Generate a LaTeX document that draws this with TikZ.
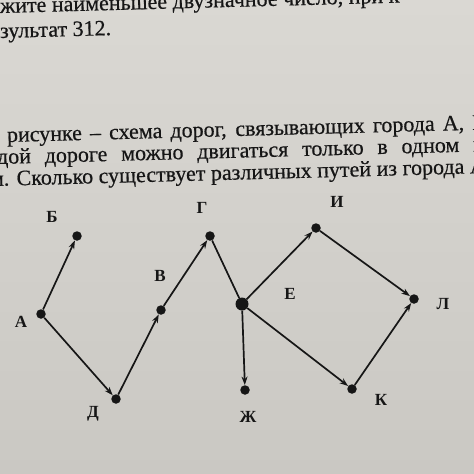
\documentclass[tikz,border=0pt]{standalone}
\usepackage{fontspec}
\setmainfont{Liberation Serif}
\newfontfamily\printfont[FakeBold=0.5]{Liberation Serif}
\usetikzlibrary{arrows.meta}

\definecolor{paper}{RGB}{218,216,211}
\definecolor{paperdark}{RGB}{202,200,195}
\definecolor{ink}{RGB}{22,22,22}

\tikzset{
	town/.style={circle, fill=ink, inner sep=0pt, minimum size=9.5pt},
	road/.style={draw=ink, line width=1.7pt, -{Stealth[length=8.5pt,width=6pt]}},
	lbl/.style={font=\fontsize{17}{17}\selectfont\bfseries, text=ink, inner sep=0pt},
	txt/.style={anchor=base west, inner sep=0pt, rotate=1.5, font=\printfont\fontsize{22}{24}\selectfont, text=ink}
}

\begin{document}
\begin{tikzpicture}[x=1pt, y=-1pt]
			\useasboundingbox (0, 0) rectangle (474, 474);
			\clip (0, 0) rectangle (474, 474);
			\shade [top color=paper, bottom color=paperdark] (0, 0) rectangle (474, 474);
			% page text
			\node[txt] (t1) at (0, 13) {жите наименьшее двузначное число, при к};
			\node[txt] (t2) at (0, 38) {зультат 312.};
			\node[txt] (t3) at (7, 142) {\makebox[478pt][s]{рисунке – схема дорог, связывающих города А, Б}};
			\node[txt] (t4) at (-3, 164) {\makebox[488pt][s]{дой дороге можно двигаться только в одном н}};
			\node[txt] (t5) at (-8, 186) {и. Сколько существует различных путей из города А};
			% towns
			\node[town] (a) at (41, 314) {};
			\node[town] (b) at (77, 236) {};
			\node[town] (d) at (116, 399) {};
			\node[town] (v) at (161, 310) {};
			\node[town] (g) at (210, 236) {};
			\node[town, minimum size=13pt] (e) at (242, 304) {};
			\node[town] (zh) at (245, 390) {};
			\node[town] (i) at (316, 228) {};
			\node[town] (l) at (414, 299) {};
			\node[town] (k) at (352, 389) {};
			% names
			\node[lbl] (la) at (21, 322) {А};
			\node[lbl] (lb) at (52, 217) {Б};
			\node[lbl] (ld) at (93, 414) {Д};
			\node[lbl] (lv) at (160, 276) {В};
			\node[lbl] (lg) at (202, 208) {Г};
			\node[lbl] (le) at (290, 294) {Е};
			\node[lbl] (lzh) at (248, 417) {Ж};
			\node[lbl] (li) at (337, 202) {И};
			\node[lbl] (ll) at (443, 304) {Л};
			\node[lbl] (lk) at (381, 400) {К};
			% roads
			\draw[road] (a) -- (b);
			\draw[road] (a) -- (d);
			\draw[road] (d) -- (v);
			\draw[road] (v) -- (g);
			\draw[road, -] (g) -- (e);
			\draw[road] (e) -- (i);
			\draw[road] (e) -- (zh);
			\draw[road] (e) -- (k);
			\draw[road] (i) -- (l);
			\draw[road] (k) -- (l);
\end{tikzpicture}
\end{document}
